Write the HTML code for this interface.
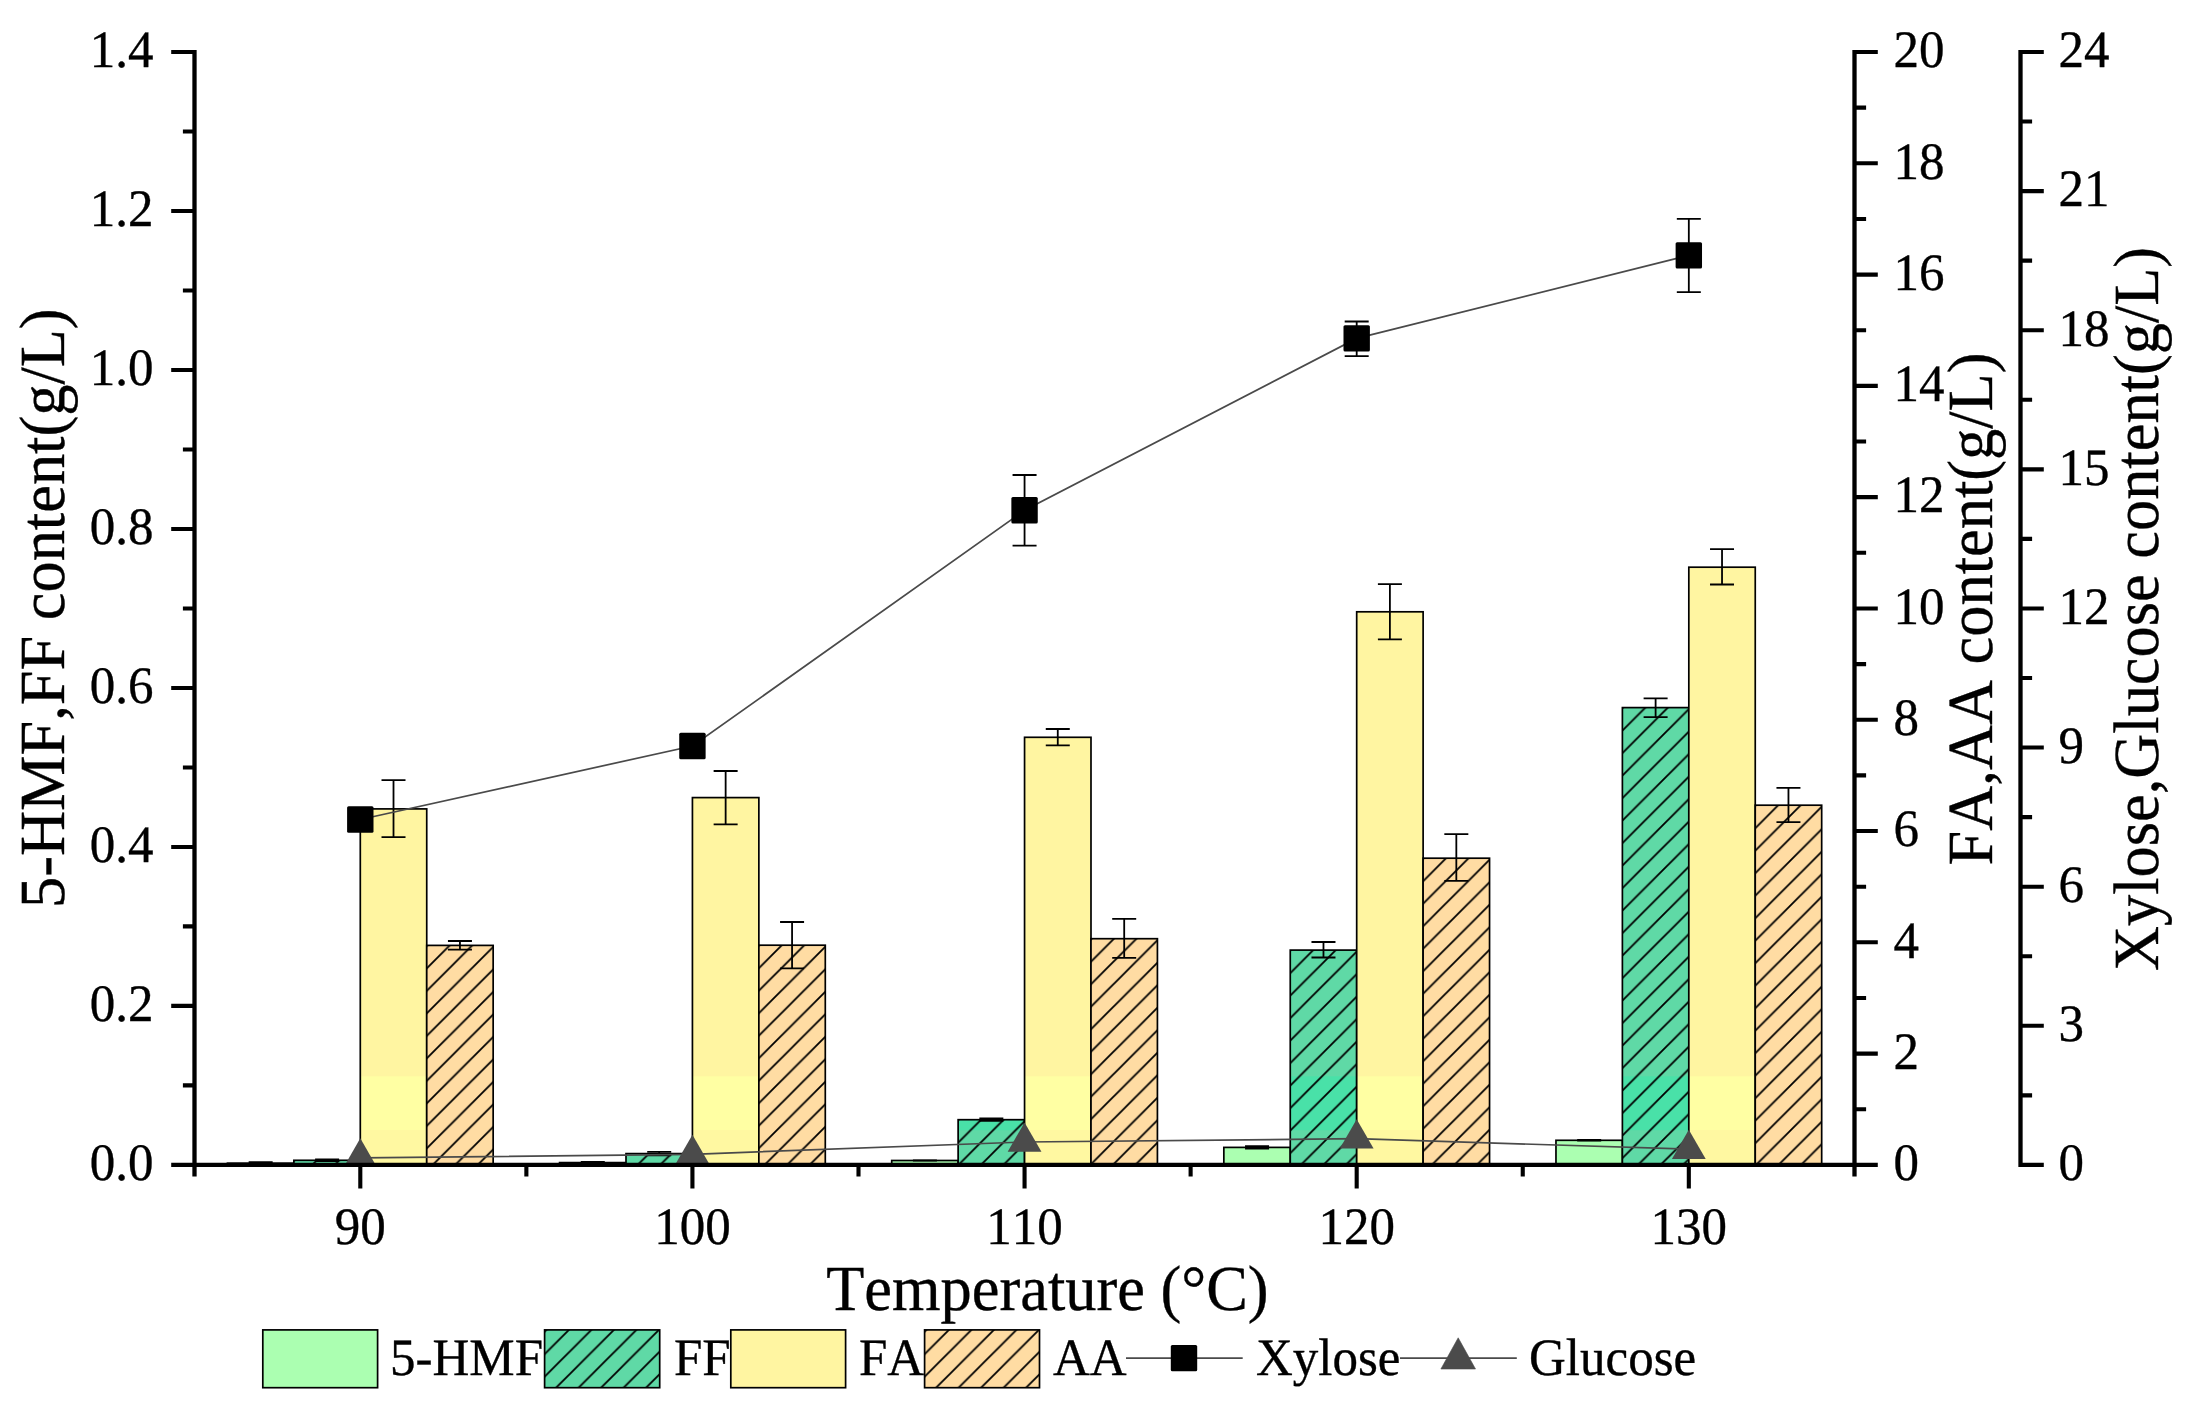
<!DOCTYPE html>
<html lang="en">
<head>
<meta charset="utf-8">
<title>Temperature chart</title>
<style>
html,body{margin:0;padding:0;background:#fff;}
body{width:2190px;height:1414px;overflow:hidden;}
svg{display:block;}
text{white-space:pre;stroke:#000;stroke-width:0.35px;font-kerning:none;font-variant-ligatures:none;text-rendering:geometricPrecision;}
</style>
</head>
<body>
<svg width="2190" height="1414" viewBox="0 0 2190 1414" font-family='"Liberation Serif", "Times New Roman", serif' fill="#000">
<defs>
<pattern id="hatch" patternUnits="userSpaceOnUse" width="22.5" height="22.5"><path d="M-22.5,22.5 L22.5,-22.5 M0,45.0 L45.0,0 M0,22.5 L22.5,0" stroke="#000" stroke-width="1.8" fill="none"/></pattern>
</defs>
<rect width="2190" height="1414" fill="#fff"/>
<g id="bars">
<rect x="227.45" y="1163.20" width="66.43" height="1.70" fill="#abffb1"/>
<rect x="227.45" y="1163.20" width="66.43" height="1.70" fill="none" stroke="#000" stroke-width="1.7"/>
<path d="M260.66,1162.20 V1164.00 M248.66,1162.20 h24.0 M248.66,1164.00 h24.0" stroke="#000" stroke-width="1.8" fill="none"/>
<rect x="293.87" y="1160.30" width="66.43" height="4.60" fill="#5fd9a6"/>
<g clip-path="none"><svg x="293.87" y="1160.30" width="66.43" height="4.60" overflow="hidden"><rect transform="translate(0.5,0)" x="-2" y="-2" width="70.43" height="8.60" fill="url(#hatch)"/></svg></g>
<rect x="293.87" y="1160.30" width="66.43" height="4.60" fill="none" stroke="#000" stroke-width="1.7"/>
<path d="M327.09,1159.40 V1161.20 M315.09,1159.40 h24.0 M315.09,1161.20 h24.0" stroke="#000" stroke-width="1.8" fill="none"/>
<rect x="360.30" y="808.90" width="66.43" height="356.00" fill="#fff5a1"/>
<rect x="360.30" y="1076.30" width="66.43" height="53.90" fill="#ffffa3"/>
<rect x="360.30" y="1130.20" width="66.43" height="34.70" fill="#fff8a1"/>
<rect x="360.30" y="808.90" width="66.43" height="356.00" fill="none" stroke="#000" stroke-width="1.7"/>
<path d="M393.51,780.20 V837.20 M381.51,780.20 h24.0 M381.51,837.20 h24.0" stroke="#000" stroke-width="1.8" fill="none"/>
<rect x="426.73" y="945.40" width="66.43" height="219.50" fill="#ffdca3"/>
<g clip-path="none"><svg x="426.73" y="945.40" width="66.43" height="219.50" overflow="hidden"><rect transform="translate(0.5,0)" x="-2" y="-2" width="70.43" height="223.50" fill="url(#hatch)"/></svg></g>
<rect x="426.73" y="945.40" width="66.43" height="219.50" fill="none" stroke="#000" stroke-width="1.7"/>
<path d="M459.94,941.00 V949.60 M447.94,941.00 h24.0 M447.94,949.60 h24.0" stroke="#000" stroke-width="1.8" fill="none"/>
<rect x="559.58" y="1162.60" width="66.43" height="2.30" fill="#abffb1"/>
<rect x="559.58" y="1162.60" width="66.43" height="2.30" fill="none" stroke="#000" stroke-width="1.7"/>
<path d="M592.79,1162.00 V1163.20 M580.79,1162.00 h24.0 M580.79,1163.20 h24.0" stroke="#000" stroke-width="1.8" fill="none"/>
<rect x="626.00" y="1153.60" width="66.43" height="11.30" fill="#5fd9a6"/>
<g clip-path="none"><svg x="626.00" y="1153.60" width="66.43" height="11.30" overflow="hidden"><rect transform="translate(0.5,0)" x="-2" y="-2" width="70.43" height="15.30" fill="url(#hatch)"/></svg></g>
<rect x="626.00" y="1153.60" width="66.43" height="11.30" fill="none" stroke="#000" stroke-width="1.7"/>
<path d="M659.22,1151.80 V1155.40 M647.22,1151.80 h24.0 M647.22,1155.40 h24.0" stroke="#000" stroke-width="1.8" fill="none"/>
<rect x="692.43" y="797.60" width="66.43" height="367.30" fill="#fff5a1"/>
<rect x="692.43" y="1076.30" width="66.43" height="53.90" fill="#ffffa3"/>
<rect x="692.43" y="1130.20" width="66.43" height="34.70" fill="#fff8a1"/>
<rect x="692.43" y="797.60" width="66.43" height="367.30" fill="none" stroke="#000" stroke-width="1.7"/>
<path d="M725.64,771.00 V824.40 M713.64,771.00 h24.0 M713.64,824.40 h24.0" stroke="#000" stroke-width="1.8" fill="none"/>
<rect x="758.86" y="945.20" width="66.43" height="219.70" fill="#ffdca3"/>
<g clip-path="none"><svg x="758.86" y="945.20" width="66.43" height="219.70" overflow="hidden"><rect transform="translate(0.5,0)" x="-2" y="-2" width="70.43" height="223.70" fill="url(#hatch)"/></svg></g>
<rect x="758.86" y="945.20" width="66.43" height="219.70" fill="none" stroke="#000" stroke-width="1.7"/>
<path d="M792.07,922.00 V968.30 M780.07,922.00 h24.0 M780.07,968.30 h24.0" stroke="#000" stroke-width="1.8" fill="none"/>
<rect x="891.71" y="1160.50" width="66.43" height="4.40" fill="#abffb1"/>
<rect x="891.71" y="1160.50" width="66.43" height="4.40" fill="none" stroke="#000" stroke-width="1.7"/>
<path d="M924.92,1160.30 V1160.70 M912.92,1160.30 h24.0 M912.92,1160.70 h24.0" stroke="#000" stroke-width="1.8" fill="none"/>
<rect x="958.13" y="1119.70" width="66.43" height="45.20" fill="#5fd9a6"/>
<rect x="958.13" y="1119.70" width="66.43" height="10.50" fill="#49e1a8"/>
<g clip-path="none"><svg x="958.13" y="1119.70" width="66.43" height="45.20" overflow="hidden"><rect transform="translate(0.5,0)" x="-2" y="-2" width="70.43" height="49.20" fill="url(#hatch)"/></svg></g>
<rect x="958.13" y="1119.70" width="66.43" height="45.20" fill="none" stroke="#000" stroke-width="1.7"/>
<path d="M991.35,1118.30 V1120.90 M979.35,1118.30 h24.0 M979.35,1120.90 h24.0" stroke="#000" stroke-width="1.8" fill="none"/>
<rect x="1024.56" y="737.30" width="66.43" height="427.60" fill="#fff5a1"/>
<rect x="1024.56" y="1076.30" width="66.43" height="53.90" fill="#ffffa3"/>
<rect x="1024.56" y="1130.20" width="66.43" height="34.70" fill="#fff8a1"/>
<rect x="1024.56" y="737.30" width="66.43" height="427.60" fill="none" stroke="#000" stroke-width="1.7"/>
<path d="M1057.77,729.00 V745.40 M1045.77,729.00 h24.0 M1045.77,745.40 h24.0" stroke="#000" stroke-width="1.8" fill="none"/>
<rect x="1090.99" y="938.70" width="66.43" height="226.20" fill="#ffdca3"/>
<g clip-path="none"><svg x="1090.99" y="938.70" width="66.43" height="226.20" overflow="hidden"><rect transform="translate(0.5,0)" x="-2" y="-2" width="70.43" height="230.20" fill="url(#hatch)"/></svg></g>
<rect x="1090.99" y="938.70" width="66.43" height="226.20" fill="none" stroke="#000" stroke-width="1.7"/>
<path d="M1124.20,918.90 V957.80 M1112.20,918.90 h24.0 M1112.20,957.80 h24.0" stroke="#000" stroke-width="1.8" fill="none"/>
<rect x="1223.84" y="1147.40" width="66.43" height="17.50" fill="#abffb1"/>
<rect x="1223.84" y="1147.40" width="66.43" height="17.50" fill="none" stroke="#000" stroke-width="1.7"/>
<path d="M1257.05,1146.10 V1148.50 M1245.05,1146.10 h24.0 M1245.05,1148.50 h24.0" stroke="#000" stroke-width="1.8" fill="none"/>
<rect x="1290.26" y="950.10" width="66.43" height="214.80" fill="#5fd9a6"/>
<rect x="1290.26" y="1076.30" width="66.43" height="53.90" fill="#49e1a8"/>
<g clip-path="none"><svg x="1290.26" y="950.10" width="66.43" height="214.80" overflow="hidden"><rect transform="translate(0.5,0)" x="-2" y="-2" width="70.43" height="218.80" fill="url(#hatch)"/></svg></g>
<rect x="1290.26" y="950.10" width="66.43" height="214.80" fill="none" stroke="#000" stroke-width="1.7"/>
<path d="M1323.48,942.00 V957.50 M1311.48,942.00 h24.0 M1311.48,957.50 h24.0" stroke="#000" stroke-width="1.8" fill="none"/>
<rect x="1356.69" y="611.80" width="66.43" height="553.10" fill="#fff5a1"/>
<rect x="1356.69" y="1076.30" width="66.43" height="53.90" fill="#ffffa3"/>
<rect x="1356.69" y="1130.20" width="66.43" height="34.70" fill="#fff8a1"/>
<rect x="1356.69" y="611.80" width="66.43" height="553.10" fill="none" stroke="#000" stroke-width="1.7"/>
<path d="M1389.90,584.20 V639.30 M1377.90,584.20 h24.0 M1377.90,639.30 h24.0" stroke="#000" stroke-width="1.8" fill="none"/>
<rect x="1423.12" y="858.20" width="66.43" height="306.70" fill="#ffdca3"/>
<g clip-path="none"><svg x="1423.12" y="858.20" width="66.43" height="306.70" overflow="hidden"><rect transform="translate(0.5,0)" x="-2" y="-2" width="70.43" height="310.70" fill="url(#hatch)"/></svg></g>
<rect x="1423.12" y="858.20" width="66.43" height="306.70" fill="none" stroke="#000" stroke-width="1.7"/>
<path d="M1456.33,834.10 V880.80 M1444.33,834.10 h24.0 M1444.33,880.80 h24.0" stroke="#000" stroke-width="1.8" fill="none"/>
<rect x="1555.97" y="1140.30" width="66.43" height="24.60" fill="#abffb1"/>
<rect x="1555.97" y="1140.30" width="66.43" height="24.60" fill="none" stroke="#000" stroke-width="1.7"/>
<path d="M1589.18,1139.90 V1140.70 M1577.18,1139.90 h24.0 M1577.18,1140.70 h24.0" stroke="#000" stroke-width="1.8" fill="none"/>
<rect x="1622.39" y="707.60" width="66.43" height="457.30" fill="#5fd9a6"/>
<rect x="1622.39" y="1076.30" width="66.43" height="53.90" fill="#49e1a8"/>
<g clip-path="none"><svg x="1622.39" y="707.60" width="66.43" height="457.30" overflow="hidden"><rect transform="translate(0.5,0)" x="-2" y="-2" width="70.43" height="461.30" fill="url(#hatch)"/></svg></g>
<rect x="1622.39" y="707.60" width="66.43" height="457.30" fill="none" stroke="#000" stroke-width="1.7"/>
<path d="M1655.61,698.40 V717.10 M1643.61,698.40 h24.0 M1643.61,717.10 h24.0" stroke="#000" stroke-width="1.8" fill="none"/>
<rect x="1688.82" y="567.20" width="66.43" height="597.70" fill="#fff5a1"/>
<rect x="1688.82" y="1076.30" width="66.43" height="53.90" fill="#ffffa3"/>
<rect x="1688.82" y="1130.20" width="66.43" height="34.70" fill="#fff8a1"/>
<rect x="1688.82" y="567.20" width="66.43" height="597.70" fill="none" stroke="#000" stroke-width="1.7"/>
<path d="M1722.03,549.10 V584.50 M1710.03,549.10 h24.0 M1710.03,584.50 h24.0" stroke="#000" stroke-width="1.8" fill="none"/>
<rect x="1755.25" y="805.20" width="66.43" height="359.70" fill="#ffdca3"/>
<g clip-path="none"><svg x="1755.25" y="805.20" width="66.43" height="359.70" overflow="hidden"><rect transform="translate(0.5,0)" x="-2" y="-2" width="70.43" height="363.70" fill="url(#hatch)"/></svg></g>
<rect x="1755.25" y="805.20" width="66.43" height="359.70" fill="none" stroke="#000" stroke-width="1.7"/>
<path d="M1788.46,787.90 V822.20 M1776.46,787.90 h24.0 M1776.46,822.20 h24.0" stroke="#000" stroke-width="1.8" fill="none"/>
</g>
<clipPath id="plotclip"><rect x="194.5" y="0" width="1660.0" height="1164.9"/></clipPath>
<g id="lines" clip-path="url(#plotclip)">
<polyline points="360.30,819.50 692.43,746.00 1024.56,510.30 1356.69,338.40 1688.82,255.40" fill="none" stroke="#4a4a4a" stroke-width="1.7"/>
<polyline points="360.30,1157.90 692.43,1154.30 1024.56,1142.00 1356.69,1138.70 1688.82,1149.20" fill="none" stroke="#4a4a4a" stroke-width="1.7"/>
<rect x="347.10" y="806.30" width="26.4" height="26.4" rx="1.5" fill="#000"/>
<rect x="679.23" y="732.80" width="26.4" height="26.4" rx="1.5" fill="#000"/>
<path d="M1024.56,475.00 V545.60 M1012.56,475.00 h24.0 M1012.56,545.60 h24.0" stroke="#000" stroke-width="1.8" fill="none"/>
<rect x="1011.36" y="497.10" width="26.4" height="26.4" rx="1.5" fill="#000"/>
<path d="M1356.69,321.50 V356.10 M1344.69,321.50 h24.0 M1344.69,356.10 h24.0" stroke="#000" stroke-width="1.8" fill="none"/>
<rect x="1343.49" y="325.20" width="26.4" height="26.4" rx="1.5" fill="#000"/>
<path d="M1688.82,218.90 V292.10 M1676.82,218.90 h24.0 M1676.82,292.10 h24.0" stroke="#000" stroke-width="1.8" fill="none"/>
<rect x="1675.62" y="242.20" width="26.4" height="26.4" rx="1.5" fill="#000"/>
<polygon points="360.30,1138.37 377.20,1167.67 343.40,1167.67" fill="#4b4b4b"/>
<polygon points="692.43,1134.77 709.33,1164.07 675.53,1164.07" fill="#4b4b4b"/>
<polygon points="1024.56,1122.47 1041.46,1151.77 1007.66,1151.77" fill="#4b4b4b"/>
<polygon points="1356.69,1119.17 1373.59,1148.47 1339.79,1148.47" fill="#4b4b4b"/>
<polygon points="1688.82,1129.67 1705.72,1158.97 1671.92,1158.97" fill="#4b4b4b"/>
</g>
<g id="axes" stroke="#000" stroke-width="4.3" fill="none" stroke-linecap="butt">
<path d="M171.20,1164.9 H1877.80"/>
<path d="M194.5,49.95 V1176.50"/>
<path d="M1854.5,49.95 V1176.50"/>
<path d="M2020.5,49.95 V1167.05"/>
</g>
<g id="ticks" stroke="#000" stroke-width="4.1" fill="none">
<path d="M360.30,1164.9 v23.60 M526.37,1164.9 v11.60 M692.43,1164.9 v23.60 M858.50,1164.9 v11.60 M1024.56,1164.9 v23.60 M1190.62,1164.9 v11.60 M1356.69,1164.9 v23.60 M1522.75,1164.9 v11.60 M1688.82,1164.9 v23.60"/>
<path d="M194.5,1085.41 h-11.60 M194.5,1005.91 h-23.30 M194.5,926.42 h-11.60 M194.5,846.93 h-23.30 M194.5,767.44 h-11.60 M194.5,687.94 h-23.30 M194.5,608.45 h-11.60 M194.5,528.96 h-23.30 M194.5,449.46 h-11.60 M194.5,369.97 h-23.30 M194.5,290.48 h-11.60 M194.5,210.99 h-23.30 M194.5,131.49 h-11.60 M194.5,52.00 h-23.30"/>
<path d="M1854.5,1109.26 h11.60 M1854.5,1053.61 h23.30 M1854.5,997.97 h11.60 M1854.5,942.32 h23.30 M1854.5,886.68 h11.60 M1854.5,831.03 h23.30 M1854.5,775.39 h11.60 M1854.5,719.74 h23.30 M1854.5,664.10 h11.60 M1854.5,608.45 h23.30 M1854.5,552.80 h11.60 M1854.5,497.16 h23.30 M1854.5,441.51 h11.60 M1854.5,385.87 h23.30 M1854.5,330.23 h11.60 M1854.5,274.58 h23.30 M1854.5,218.94 h11.60 M1854.5,163.29 h23.30 M1854.5,107.64 h11.60 M1854.5,52.00 h23.30"/>
<path d="M2020.5,1164.90 h23.30 M2020.5,1095.34 h11.60 M2020.5,1025.79 h23.30 M2020.5,956.23 h11.60 M2020.5,886.68 h23.30 M2020.5,817.12 h11.60 M2020.5,747.56 h23.30 M2020.5,678.01 h11.60 M2020.5,608.45 h23.30 M2020.5,538.89 h11.60 M2020.5,469.34 h23.30 M2020.5,399.78 h11.60 M2020.5,330.23 h23.30 M2020.5,260.67 h11.60 M2020.5,191.11 h23.30 M2020.5,121.56 h11.60 M2020.5,52.00 h23.30"/>
</g>
<g id="ticklabels" font-size="51">
<text transform="translate(153.50,1180.20) scale(1,1.03)" text-anchor="end">0.0</text>
<text transform="translate(153.50,1021.21) scale(1,1.03)" text-anchor="end">0.2</text>
<text transform="translate(153.50,862.23) scale(1,1.03)" text-anchor="end">0.4</text>
<text transform="translate(153.50,703.24) scale(1,1.03)" text-anchor="end">0.6</text>
<text transform="translate(153.50,544.26) scale(1,1.03)" text-anchor="end">0.8</text>
<text transform="translate(153.50,385.27) scale(1,1.03)" text-anchor="end">1.0</text>
<text transform="translate(153.50,226.29) scale(1,1.03)" text-anchor="end">1.2</text>
<text transform="translate(153.50,67.30) scale(1,1.03)" text-anchor="end">1.4</text>
<text transform="translate(1893.50,1180.20) scale(1,1.03)">0</text>
<text transform="translate(1893.50,1068.91) scale(1,1.03)">2</text>
<text transform="translate(1893.50,957.62) scale(1,1.03)">4</text>
<text transform="translate(1893.50,846.33) scale(1,1.03)">6</text>
<text transform="translate(1893.50,735.04) scale(1,1.03)">8</text>
<text transform="translate(1893.50,623.75) scale(1,1.03)">10</text>
<text transform="translate(1893.50,512.46) scale(1,1.03)">12</text>
<text transform="translate(1893.50,401.17) scale(1,1.03)">14</text>
<text transform="translate(1893.50,289.88) scale(1,1.03)">16</text>
<text transform="translate(1893.50,178.59) scale(1,1.03)">18</text>
<text transform="translate(1893.50,67.30) scale(1,1.03)">20</text>
<text transform="translate(2058.50,1180.20) scale(1,1.03)">0</text>
<text transform="translate(2058.50,1041.09) scale(1,1.03)">3</text>
<text transform="translate(2058.50,901.98) scale(1,1.03)">6</text>
<text transform="translate(2058.50,762.86) scale(1,1.03)">9</text>
<text transform="translate(2058.50,623.75) scale(1,1.03)">12</text>
<text transform="translate(2058.50,484.64) scale(1,1.03)">15</text>
<text transform="translate(2058.50,345.53) scale(1,1.03)">18</text>
<text transform="translate(2058.50,206.41) scale(1,1.03)">21</text>
<text transform="translate(2058.50,67.30) scale(1,1.03)">24</text>
<text transform="translate(360.30,1244.00) scale(1,1.03)" text-anchor="middle">90</text>
<text transform="translate(692.43,1244.00) scale(1,1.03)" text-anchor="middle">100</text>
<text transform="translate(1024.56,1244.00) scale(1,1.03)" text-anchor="middle">110</text>
<text transform="translate(1356.69,1244.00) scale(1,1.03)" text-anchor="middle">120</text>
<text transform="translate(1688.82,1244.00) scale(1,1.03)" text-anchor="middle">130</text>
</g>
<g id="titles" font-size="62.4" text-anchor="middle">
<text transform="translate(1047.40,1309.80) scale(1,1.03)">Temperature (°C)</text>
<text transform="translate(64.30,608.20) rotate(-90) scale(1,1.03)">5-HMF,FF content(g/L)</text>
<text transform="translate(1992.40,609.00) rotate(-90) scale(1,1.03)">FA,AA content(g/L)</text>
<text transform="translate(2158.20,609.00) rotate(-90) scale(1,1.03)">Xylose,Glucose content(g/L)</text>
</g>
<g id="legend" font-size="51">
<rect x="262.8" y="1329.9" width="114.80" height="57.80" fill="#abffb1"/>
<rect x="262.8" y="1329.9" width="114.80" height="57.80" fill="none" stroke="#000" stroke-width="1.7"/>
<text transform="translate(390.00,1375.00) scale(1,1.03)">5-HMF</text>
<rect x="544.6" y="1329.9" width="115.10" height="57.80" fill="#5fd9a6"/>
<svg x="544.6" y="1329.9" width="115.10" height="57.80" overflow="hidden"><rect transform="translate(1.8,0)" x="-4" y="-2" width="123.10" height="61.80" fill="url(#hatch)"/></svg>
<rect x="544.6" y="1329.9" width="115.10" height="57.80" fill="none" stroke="#000" stroke-width="1.7"/>
<text transform="translate(674.00,1375.00) scale(1,1.03)">FF</text>
<rect x="730.8" y="1329.9" width="114.80" height="57.80" fill="#fff5a1"/>
<rect x="730.8" y="1329.9" width="114.80" height="57.80" fill="none" stroke="#000" stroke-width="1.7"/>
<text transform="translate(859.00,1375.00) scale(1,1.03)">FA</text>
<rect x="924.6" y="1329.9" width="114.90" height="57.80" fill="#ffdca3"/>
<svg x="924.6" y="1329.9" width="114.90" height="57.80" overflow="hidden"><rect transform="translate(1.8,0)" x="-4" y="-2" width="122.90" height="61.80" fill="url(#hatch)"/></svg>
<rect x="924.6" y="1329.9" width="114.90" height="57.80" fill="none" stroke="#000" stroke-width="1.7"/>
<text transform="translate(1053.00,1375.00) scale(1,1.03)">AA</text>
<path d="M1126,1358.1 H1242.7" stroke="#4a4a4a" stroke-width="1.7"/>
<rect x="1170.8" y="1344.8999999999999" width="26.4" height="26.4" rx="1.5" fill="#000"/>
<text transform="translate(1256.00,1375.00) scale(1,1.03)">Xylose</text>
<path d="M1400,1358.1 H1516.8" stroke="#4a4a4a" stroke-width="1.7"/>
<polygon points="1458.2,1337.80 1475.5,1369.00 1440.9,1369.00" fill="#4b4b4b" stroke="#4b4b4b" stroke-width="0.6" stroke-linejoin="round"/>
<text transform="translate(1529.00,1375.00) scale(1,1.03)">Glucose</text>
</g>
</svg>
</body>
</html>
